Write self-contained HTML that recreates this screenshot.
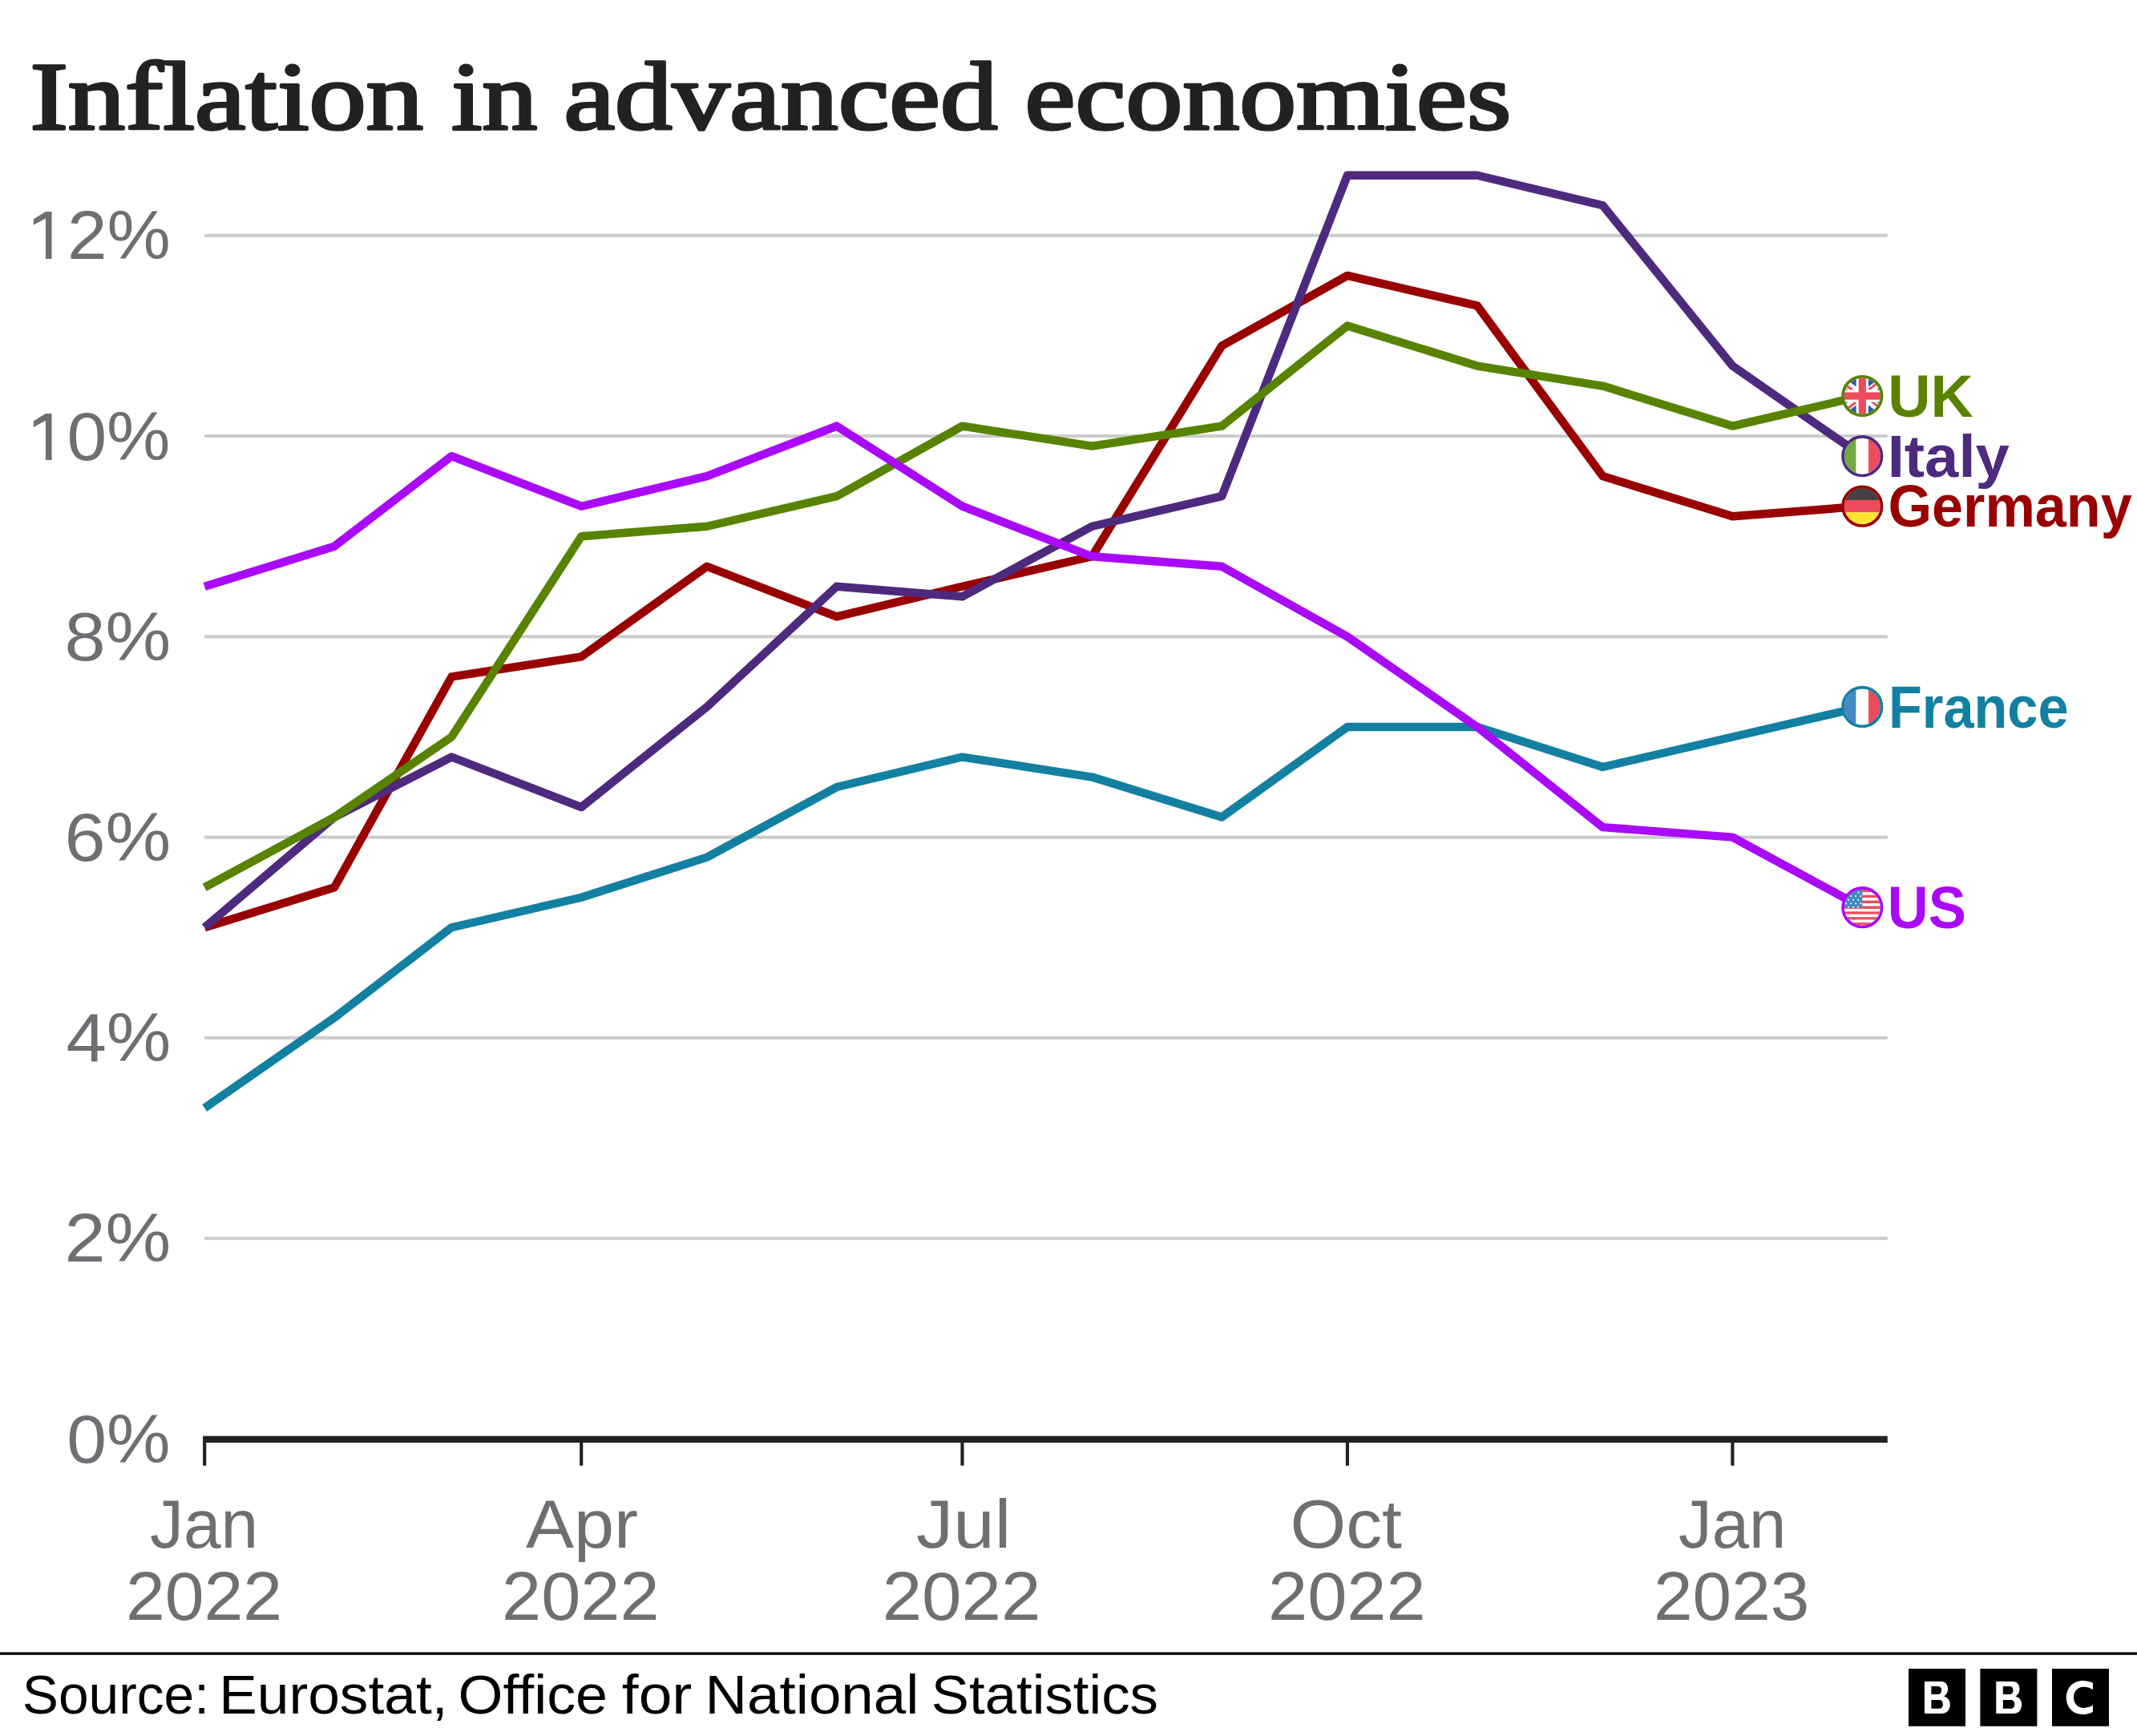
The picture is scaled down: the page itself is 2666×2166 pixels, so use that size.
<!DOCTYPE html>
<html><head><meta charset="utf-8"><title>Inflation in advanced economies</title>
<style>html,body{margin:0;padding:0;background:#fff;width:2666px;height:2166px;overflow:hidden}svg{display:block}</style>
</head><body>
<svg width="2666" height="2166" viewBox="0 0 2666 2166">
<defs>
<clipPath id="cc"><circle cx="0" cy="0" r="22.6"/></clipPath>
</defs>
<rect width="2666" height="2166" fill="#fff"/>
<text x="37.40" y="161.2" font-family="'Liberation Serif', serif" font-size="121" fill="#222" textLength="490.66" lengthAdjust="spacingAndGlyphs" stroke="#222" stroke-width="3.5" stroke-linejoin="round">Inflation</text>
<text x="563.20" y="161.2" font-family="'Liberation Serif', serif" font-size="121" fill="#222" textLength="107.03" lengthAdjust="spacingAndGlyphs" stroke="#222" stroke-width="3.5" stroke-linejoin="round">in</text>
<text x="703.40" y="161.2" font-family="'Liberation Serif', serif" font-size="121" fill="#222" textLength="541.23" lengthAdjust="spacingAndGlyphs" stroke="#222" stroke-width="3.5" stroke-linejoin="round">advanced</text>
<text x="1278.60" y="161.2" font-family="'Liberation Serif', serif" font-size="121" fill="#222" textLength="606.55" lengthAdjust="spacingAndGlyphs" stroke="#222" stroke-width="3.5" stroke-linejoin="round">economies</text>
<rect x="255.2" y="1543.09" width="2099.60" height="4.1" fill="#CCCCCC"/>
<rect x="255.2" y="1292.83" width="2099.60" height="4.1" fill="#CCCCCC"/>
<rect x="255.2" y="1042.57" width="2099.60" height="4.1" fill="#CCCCCC"/>
<rect x="255.2" y="792.31" width="2099.60" height="4.1" fill="#CCCCCC"/>
<rect x="255.2" y="542.05" width="2099.60" height="4.1" fill="#CCCCCC"/>
<rect x="255.2" y="291.79" width="2099.60" height="4.1" fill="#CCCCCC"/>
<text x="83.35" y="1824.5" font-family="'Liberation Sans', sans-serif" font-size="85" fill="#6E6E73" textLength="129.16" lengthAdjust="spacingAndGlyphs">0%</text>
<text x="80.50" y="1573.6" font-family="'Liberation Sans', sans-serif" font-size="85" fill="#6E6E73" textLength="132.86" lengthAdjust="spacingAndGlyphs">2%</text>
<text x="82.50" y="1323.6" font-family="'Liberation Sans', sans-serif" font-size="85" fill="#6E6E73" textLength="130.86" lengthAdjust="spacingAndGlyphs">4%</text>
<text x="80.50" y="1073.6" font-family="'Liberation Sans', sans-serif" font-size="85" fill="#6E6E73" textLength="132.86" lengthAdjust="spacingAndGlyphs">6%</text>
<text x="80.50" y="823.6" font-family="'Liberation Sans', sans-serif" font-size="85" fill="#6E6E73" textLength="132.86" lengthAdjust="spacingAndGlyphs">8%</text>
<text x="83.40" y="573.9" font-family="'Liberation Sans', sans-serif" font-size="85" fill="#6E6E73" textLength="129.06" lengthAdjust="spacingAndGlyphs">0%</text>
<text x="84.00" y="323.0" font-family="'Liberation Sans', sans-serif" font-size="85" fill="#6E6E73" textLength="128.86" lengthAdjust="spacingAndGlyphs">2%</text>
<path d="M57.0,264.0H64.5V323.0H56.9V272.6L41.8,280.8V273.4Z" fill="#6E6E73"/>
<path d="M57.0,516.1H64.5V573.9H56.9V524.7L41.8,532.9V525.5Z" fill="#6E6E73"/>
<rect x="253.1" y="1791.7" width="2101.70" height="8.3" fill="#222"/>
<rect x="253.12" y="1799" width="4.17" height="29.7" fill="#222"/>
<rect x="723.14" y="1799" width="4.17" height="29.7" fill="#222"/>
<rect x="1198.39" y="1799" width="4.17" height="29.7" fill="#222"/>
<rect x="1678.85" y="1799" width="4.17" height="29.7" fill="#222"/>
<rect x="2159.32" y="1799" width="4.17" height="29.7" fill="#222"/>
<text x="187.10" y="1930.6" font-family="'Liberation Sans', sans-serif" font-size="85" fill="#6E6E73" textLength="135.05" lengthAdjust="spacingAndGlyphs">Jan</text>
<text x="156.90" y="2020.7" font-family="'Liberation Sans', sans-serif" font-size="85" fill="#6E6E73" textLength="195.29" lengthAdjust="spacingAndGlyphs">2022</text>
<text x="656.00" y="1930.6" font-family="'Liberation Sans', sans-serif" font-size="85" fill="#6E6E73" textLength="140.08" lengthAdjust="spacingAndGlyphs">Apr</text>
<text x="626.10" y="2020.7" font-family="'Liberation Sans', sans-serif" font-size="85" fill="#6E6E73" textLength="196.49" lengthAdjust="spacingAndGlyphs">2022</text>
<text x="1143.00" y="1930.6" font-family="'Liberation Sans', sans-serif" font-size="85" fill="#6E6E73" textLength="118.27" lengthAdjust="spacingAndGlyphs">Jul</text>
<text x="1100.70" y="2020.7" font-family="'Liberation Sans', sans-serif" font-size="85" fill="#6E6E73" textLength="197.69" lengthAdjust="spacingAndGlyphs">2022</text>
<text x="1609.60" y="1930.6" font-family="'Liberation Sans', sans-serif" font-size="85" fill="#6E6E73" textLength="139.43" lengthAdjust="spacingAndGlyphs">Oct</text>
<text x="1582.00" y="2020.7" font-family="'Liberation Sans', sans-serif" font-size="85" fill="#6E6E73" textLength="196.69" lengthAdjust="spacingAndGlyphs">2022</text>
<text x="2094.10" y="1930.6" font-family="'Liberation Sans', sans-serif" font-size="85" fill="#6E6E73" textLength="134.25" lengthAdjust="spacingAndGlyphs">Jan</text>
<text x="2063.00" y="2020.7" font-family="'Liberation Sans', sans-serif" font-size="85" fill="#6E6E73" textLength="194.29" lengthAdjust="spacingAndGlyphs">2023</text>
<polyline points="255.20,1382.47 417.10,1269.85 563.33,1157.24 725.22,1119.70 881.90,1069.65 1043.79,982.06 1200.47,944.52 1362.36,969.54 1524.26,1019.59 1680.93,906.98 1842.83,906.98 1999.50,957.03 2161.40,919.49 2323.30,881.95" fill="none" stroke="#1380A1" stroke-width="10.4" stroke-linejoin="round" stroke-linecap="butt"/>
<polyline points="255.20,1157.24 417.10,1107.19 563.33,844.41 725.22,819.39 881.90,706.77 1043.79,769.33 1200.47,731.80 1362.36,694.26 1524.26,431.48 1680.93,343.89 1842.83,381.43 1999.50,594.15 2161.40,644.20 2323.30,631.69" fill="none" stroke="#990000" stroke-width="10.4" stroke-linejoin="round" stroke-linecap="butt"/>
<polyline points="255.20,1157.24 417.10,1019.59 563.33,944.52 725.22,1007.08 881.90,881.95 1043.79,731.80 1200.47,744.31 1362.36,656.72 1524.26,619.18 1680.93,218.76 1842.83,218.76 1999.50,256.30 2161.40,456.51 2323.30,569.13" fill="none" stroke="#4E2A7E" stroke-width="10.4" stroke-linejoin="round" stroke-linecap="butt"/>
<polyline points="255.20,1107.19 417.10,1019.59 563.33,919.49 725.22,669.23 881.90,656.72 1043.79,619.18 1200.47,531.59 1362.36,556.61 1524.26,531.59 1680.93,406.46 1842.83,456.51 1999.50,481.54 2161.40,531.59 2323.30,494.05" fill="none" stroke="#588300" stroke-width="10.4" stroke-linejoin="round" stroke-linecap="butt"/>
<polyline points="255.20,731.80 417.10,681.74 563.33,569.13 725.22,631.69 881.90,594.15 1043.79,531.59 1200.47,631.69 1362.36,694.26 1524.26,706.77 1680.93,794.36 1842.83,906.98 1999.50,1032.11 2161.40,1044.62 2323.30,1132.21" fill="none" stroke="#AA0AFA" stroke-width="10.4" stroke-linejoin="round" stroke-linecap="butt"/>
<g transform="translate(2323.30,881.95)"><circle cx="0" cy="0" r="24" fill="#fff"/><g clip-path="url(#cc)"><rect x="-23" y="-23" width="15.3" height="46" fill="#428BC1"/><rect x="-7.7" y="-23" width="15.4" height="46" fill="#fff"/><rect x="7.7" y="-23" width="15.3" height="46" fill="#ED4C5C"/></g><circle cx="0" cy="0" r="24.3" fill="none" stroke="#1380A1" stroke-width="3.6"/></g>
<text x="2355.90" y="908.1" font-family="'Liberation Sans', sans-serif" font-weight="bold" font-size="74" fill="#1380A1" textLength="224.67" lengthAdjust="spacingAndGlyphs">France</text>
<g transform="translate(2323.30,631.69)"><circle cx="0" cy="0" r="24" fill="#fff"/><g clip-path="url(#cc)"><rect x="-23" y="-23" width="46" height="15.3" fill="#424242"/><rect x="-23" y="-7.7" width="46" height="15.4" fill="#ED4C5C"/><rect x="-23" y="7.7" width="46" height="15.3" fill="#FFE62E"/></g><circle cx="0" cy="0" r="24.3" fill="none" stroke="#990000" stroke-width="3.6"/></g>
<text x="2355.40" y="657" font-family="'Liberation Sans', sans-serif" font-weight="bold" font-size="74" fill="#990000" textLength="304.43" lengthAdjust="spacingAndGlyphs">Germany</text>
<g transform="translate(2323.30,569.13)"><circle cx="0" cy="0" r="24" fill="#fff"/><g clip-path="url(#cc)"><rect x="-23" y="-23" width="15.3" height="46" fill="#75A843"/><rect x="-7.7" y="-23" width="15.4" height="46" fill="#fff"/><rect x="7.7" y="-23" width="15.3" height="46" fill="#ED4C5C"/></g><circle cx="0" cy="0" r="24.3" fill="none" stroke="#4E2A7E" stroke-width="3.6"/></g>
<text x="2354.70" y="595" font-family="'Liberation Sans', sans-serif" font-weight="bold" font-size="74" fill="#4E2A7E" textLength="152.08" lengthAdjust="spacingAndGlyphs">Italy</text>
<g transform="translate(2323.30,494.05)"><circle cx="0" cy="0" r="24" fill="#fff"/><g clip-path="url(#cc)"><rect x="-23" y="-23" width="46" height="46" fill="#2A5F9E"/><g transform="rotate(36.870)"><rect x="-40" y="-4.59" width="80" height="9.18" fill="#fff"/></g><g transform="rotate(-36.870)"><rect x="-40" y="-4.59" width="80" height="9.18" fill="#fff"/></g><g transform="rotate(36.870)"><rect x="-40" y="0" width="40" height="3.06" fill="#ED4C5C"/><rect x="0" y="-3.06" width="40" height="3.06" fill="#ED4C5C"/></g><g transform="rotate(-36.870)"><rect x="-40" y="0" width="40" height="3.06" fill="#ED4C5C"/><rect x="0" y="-3.06" width="40" height="3.06" fill="#ED4C5C"/></g><rect x="-7.65" y="-23" width="15.30" height="46" fill="#fff"/><rect x="-23" y="-7.65" width="46" height="15.30" fill="#fff"/><rect x="-4.59" y="-23" width="9.18" height="46" fill="#ED4C5C"/><rect x="-23" y="-4.59" width="46" height="9.18" fill="#ED4C5C"/></g><circle cx="0" cy="0" r="24.3" fill="none" stroke="#588300" stroke-width="3.6"/></g>
<text x="2355.20" y="519.9" font-family="'Liberation Sans', sans-serif" font-weight="bold" font-size="74" fill="#588300" textLength="106.49" lengthAdjust="spacingAndGlyphs">UK</text>
<g transform="translate(2323.30,1132.21)"><circle cx="0" cy="0" r="24" fill="#fff"/><g clip-path="url(#cc)"><rect x="-23" y="-22.30" width="46" height="3.48" fill="#ED4C5C"/><rect x="-23" y="-18.87" width="46" height="3.48" fill="#fff"/><rect x="-23" y="-15.44" width="46" height="3.48" fill="#ED4C5C"/><rect x="-23" y="-12.01" width="46" height="3.48" fill="#fff"/><rect x="-23" y="-8.58" width="46" height="3.48" fill="#ED4C5C"/><rect x="-23" y="-5.15" width="46" height="3.48" fill="#fff"/><rect x="-23" y="-1.72" width="46" height="3.48" fill="#ED4C5C"/><rect x="-23" y="1.72" width="46" height="3.48" fill="#fff"/><rect x="-23" y="5.15" width="46" height="3.48" fill="#ED4C5C"/><rect x="-23" y="8.58" width="46" height="3.48" fill="#fff"/><rect x="-23" y="12.01" width="46" height="3.48" fill="#ED4C5C"/><rect x="-23" y="15.44" width="46" height="3.48" fill="#fff"/><rect x="-23" y="18.87" width="46" height="3.48" fill="#ED4C5C"/><rect x="-23" y="-23" width="23" height="23.00" fill="#428BC1"/><circle cx="-5.0" cy="-18.6" r="1.05" fill="#fff"/><circle cx="-14.1" cy="-14.1" r="1.05" fill="#fff"/><circle cx="-8.2" cy="-14.1" r="1.05" fill="#fff"/><circle cx="-2.1" cy="-14.1" r="1.05" fill="#fff"/><circle cx="-17.2" cy="-9.5" r="1.05" fill="#fff"/><circle cx="-11.2" cy="-9.5" r="1.05" fill="#fff"/><circle cx="-5.1" cy="-9.5" r="1.05" fill="#fff"/><circle cx="-20.2" cy="-5.0" r="1.05" fill="#fff"/><circle cx="-14.1" cy="-5.0" r="1.05" fill="#fff"/><circle cx="-8.2" cy="-5.0" r="1.05" fill="#fff"/><circle cx="-2.1" cy="-5.0" r="1.05" fill="#fff"/><circle cx="-17.2" cy="-0.4" r="1.05" fill="#fff"/><circle cx="-11.2" cy="-0.4" r="1.05" fill="#fff"/><circle cx="-5.1" cy="-0.4" r="1.05" fill="#fff"/></g><circle cx="0" cy="0" r="24.3" fill="none" stroke="#AA0AFA" stroke-width="3.6"/></g>
<text x="2354.80" y="1158.3" font-family="'Liberation Sans', sans-serif" font-weight="bold" font-size="74" fill="#AA0AFA" textLength="98.21" lengthAdjust="spacingAndGlyphs">US</text>
<rect x="0" y="2061.5" width="2666" height="3.3" fill="#000"/>
<text x="27.80" y="2138.2" font-family="'Liberation Sans', sans-serif" font-size="68" fill="#000" textLength="233.26" lengthAdjust="spacingAndGlyphs">Source:</text>
<text x="273.20" y="2138.2" font-family="'Liberation Sans', sans-serif" font-size="68" fill="#000" textLength="285.44" lengthAdjust="spacingAndGlyphs">Eurostat,</text>
<text x="571.60" y="2138.2" font-family="'Liberation Sans', sans-serif" font-size="68" fill="#000" textLength="186.47" lengthAdjust="spacingAndGlyphs">Office</text>
<text x="775.80" y="2138.2" font-family="'Liberation Sans', sans-serif" font-size="68" fill="#000" textLength="87.56" lengthAdjust="spacingAndGlyphs">for</text>
<text x="879.60" y="2138.2" font-family="'Liberation Sans', sans-serif" font-size="68" fill="#000" textLength="266.80" lengthAdjust="spacingAndGlyphs">National</text>
<text x="1161.80" y="2138.2" font-family="'Liberation Sans', sans-serif" font-size="68" fill="#000" textLength="283.18" lengthAdjust="spacingAndGlyphs">Statistics</text>
<g transform="translate(2381,2082)"><rect x="0" y="0" width="71" height="71.8" fill="#000"/><path d="M19.9,16H41C46,16 49.1,20 49.1,25.5C49.1,29.5 47.2,32.7 44.2,34.4C48.8,35.8 51.8,39.5 51.8,44.5C51.8,51.5 47.5,56 41.5,56H19.9Z M28.4,22H36.5C39.3,22 41.1,23.8 41.1,26.9C41.1,29.9 39.3,31.9 36.5,31.9H28.4Z M28.4,39H38C41,39 42.9,41 42.9,44.4C42.9,47.7 41,49.8 38,49.8H28.4Z" fill="#fff" fill-rule="evenodd"/></g>
<g transform="translate(2470.4,2082)"><rect x="0" y="0" width="71" height="71.8" fill="#000"/><path d="M19.9,16H41C46,16 49.1,20 49.1,25.5C49.1,29.5 47.2,32.7 44.2,34.4C48.8,35.8 51.8,39.5 51.8,44.5C51.8,51.5 47.5,56 41.5,56H19.9Z M28.4,22H36.5C39.3,22 41.1,23.8 41.1,26.9C41.1,29.9 39.3,31.9 36.5,31.9H28.4Z M28.4,39H38C41,39 42.9,41 42.9,44.4C42.9,47.7 41,49.8 38,49.8H28.4Z" fill="#fff" fill-rule="evenodd"/></g>
<g transform="translate(2560,2082)"><rect x="0" y="0" width="71" height="71.8" fill="#000"/><path d="M51,17.8C47,15.8 42.5,14.9 38.4,14.9C26.5,14.9 17.8,23.5 17.8,36C17.8,48.5 26.5,57 38.4,57C42.5,57 47,56 51,53.9V45.6C47.5,47.8 43.5,48.9 39.5,48.9C31.5,48.9 27,43 27,36C27,28.8 31.5,22.8 39.5,22.8C43.5,22.8 47.5,24 51,26.1Z" fill="#fff" fill-rule="evenodd"/></g>
</svg>
</body></html>
